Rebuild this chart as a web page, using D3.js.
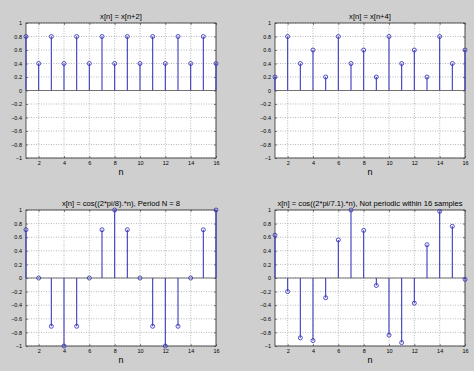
<!DOCTYPE html>
<html>
<head>
<meta charset="utf-8">
<script src="https://cdn.jsdelivr.net/npm/d3@7"></script>
<style>
  body { margin: 0; background: #cfcfcf; }
  svg { display: block; }
  text { font-family: "Liberation Sans", Arial, sans-serif; fill: #000; }
</style>
</head>
<body>
<svg></svg>
<script>
const size = {w: 474, h: 371};
const svg = d3.select('svg').attr('width', size.w).attr('height', size.h);

// sample index and values
const nIndex = [1,2,3,4,5,6,7,8,9,10,11,12,13,14,15,16];
const seriesA = [0.8,0.4,0.8,0.4,0.8,0.4,0.8,0.4,0.8,0.4,0.8,0.4,0.8,0.4,0.8,0.4];
const seriesB = [0.2,0.8,0.4,0.6,0.2,0.8,0.4,0.6,0.2,0.8,0.4,0.6,0.2,0.8,0.4,0.6];
const seriesC = [0.71,0,-0.71,-1,-0.71,0,0.71,1,0.71,0,-0.71,-1,-0.71,0,0.71,1];
const seriesD = [0.63,-0.2,-0.88,-0.92,-0.29,0.56,1,0.7,-0.11,-0.84,-0.95,-0.37,0.49,0.98,0.76,-0.02];
const titles = [
  'x[n] = x[n+2]',
  'x[n] = x[n+4]',
  'x[n] = cos((2*pi/8).*n), Period N = 8',
  'x[n] = cos((2*pi/7.1).*n), Not periodic within 16 samples'
];
const xTicks = [2,4,6,8,10,12,14,16];
const yTicks = [-1,-0.8,-0.6,-0.4,-0.2,0,0.2,0.4,0.6,0.8,1];

const panels = [
  {vals: seriesA, title: titles[0], x0: 26, x1: 216, y0: 23, y1: 158},
  {vals: seriesB, title: titles[1], x0: 275, x1: 465, y0: 23, y1: 158},
  {vals: seriesC, title: titles[2], x0: 26, x1: 216, y0: 210, y1: 346},
  {vals: seriesD, title: titles[3], x0: 275, x1: 465, y0: 210, y1: 346}
];

const stemColor = '#3b3bbf';

panels.forEach(p => drawPanel(p));

function drawPanel(p) {
  const x = d3.scaleLinear().domain([1, 16]).range([p.x0, p.x1]);
  const y = d3.scaleLinear().domain([-1, 1]).range([p.y1, p.y0]);
  const g = svg.append('g');

  g.append('rect')
    .attr('x', p.x0).attr('y', p.y0)
    .attr('width', p.x1 - p.x0).attr('height', p.y1 - p.y0)
    .attr('fill', '#fff');

  // dotted grid
  g.selectAll('.gx').data(xTicks).enter().append('line')
    .attr('x1', d => x(d)).attr('x2', d => x(d))
    .attr('y1', p.y0).attr('y2', p.y1)
    .attr('stroke', '#8a8a8a').attr('stroke-width', 0.6)
    .attr('stroke-dasharray', '1,1.5');
  g.selectAll('.gy').data(yTicks).enter().append('line')
    .attr('x1', p.x0).attr('x2', p.x1)
    .attr('y1', d => y(d)).attr('y2', d => y(d))
    .attr('stroke', '#8a8a8a').attr('stroke-width', 0.6)
    .attr('stroke-dasharray', '1,1.5');

  // baseline
  g.append('line')
    .attr('x1', p.x0).attr('x2', p.x1)
    .attr('y1', y(0)).attr('y2', y(0))
    .attr('stroke', '#555').attr('stroke-width', 0.8);

  // axes (matlab style ticks pointing inwards)
  const ax = d3.axisBottom(x).tickValues(xTicks).tickSize(-2).tickPadding(3);
  const ay = d3.axisLeft(y).tickValues(yTicks).tickSize(-2).tickPadding(4)
    .tickFormat(d => d3.format('~g')(d));
  const axG = g.append('g').attr('transform', `translate(0,${p.y1})`).call(ax);
  const ayG = g.append('g').attr('transform', `translate(${p.x0},0)`).call(ay);
  g.append('g').attr('transform', `translate(0,${p.y0})`)
    .call(d3.axisTop(x).tickValues(xTicks).tickSize(-2).tickFormat(''));
  g.append('g').attr('transform', `translate(${p.x1},0)`)
    .call(d3.axisRight(y).tickValues(yTicks).tickSize(-2).tickFormat(''));
  g.selectAll('.domain').remove();
  g.selectAll('.tick line').attr('stroke', '#333').attr('stroke-width', 0.6);
  axG.selectAll('text').style('font-size', '5.5px').attr('fill', '#222');
  ayG.selectAll('text').style('font-size', '5.5px').attr('fill', '#222');

  g.append('rect')
    .attr('x', p.x0).attr('y', p.y0)
    .attr('width', p.x1 - p.x0).attr('height', p.y1 - p.y0)
    .attr('fill', 'none').attr('stroke', '#333').attr('stroke-width', 0.8);

  // stems
  const data = nIndex.map((n, i) => ({n: n, v: p.vals[i]}));
  g.selectAll('.stem').data(data).enter().append('line')
    .attr('x1', d => x(d.n)).attr('x2', d => x(d.n))
    .attr('y1', y(0)).attr('y2', d => y(d.v))
    .attr('stroke', stemColor).attr('stroke-width', 1.1);
  g.selectAll('.mark').data(data).enter().append('circle')
    .attr('cx', d => x(d.n)).attr('cy', d => y(d.v)).attr('r', 2)
    .attr('fill', 'none').attr('stroke', stemColor).attr('stroke-width', 0.9);

  g.append('text')
    .attr('x', (p.x0 + p.x1) / 2).attr('y', p.y0 - 4)
    .attr('text-anchor', 'middle')
    .style('font-size', '7.6px')
    .text(p.title);

  g.append('text')
    .attr('x', (p.x0 + p.x1) / 2).attr('y', p.y1 + 17)
    .attr('text-anchor', 'middle')
    .style('font-size', '9px')
    .text('n');
}
</script>
</body>
</html>
